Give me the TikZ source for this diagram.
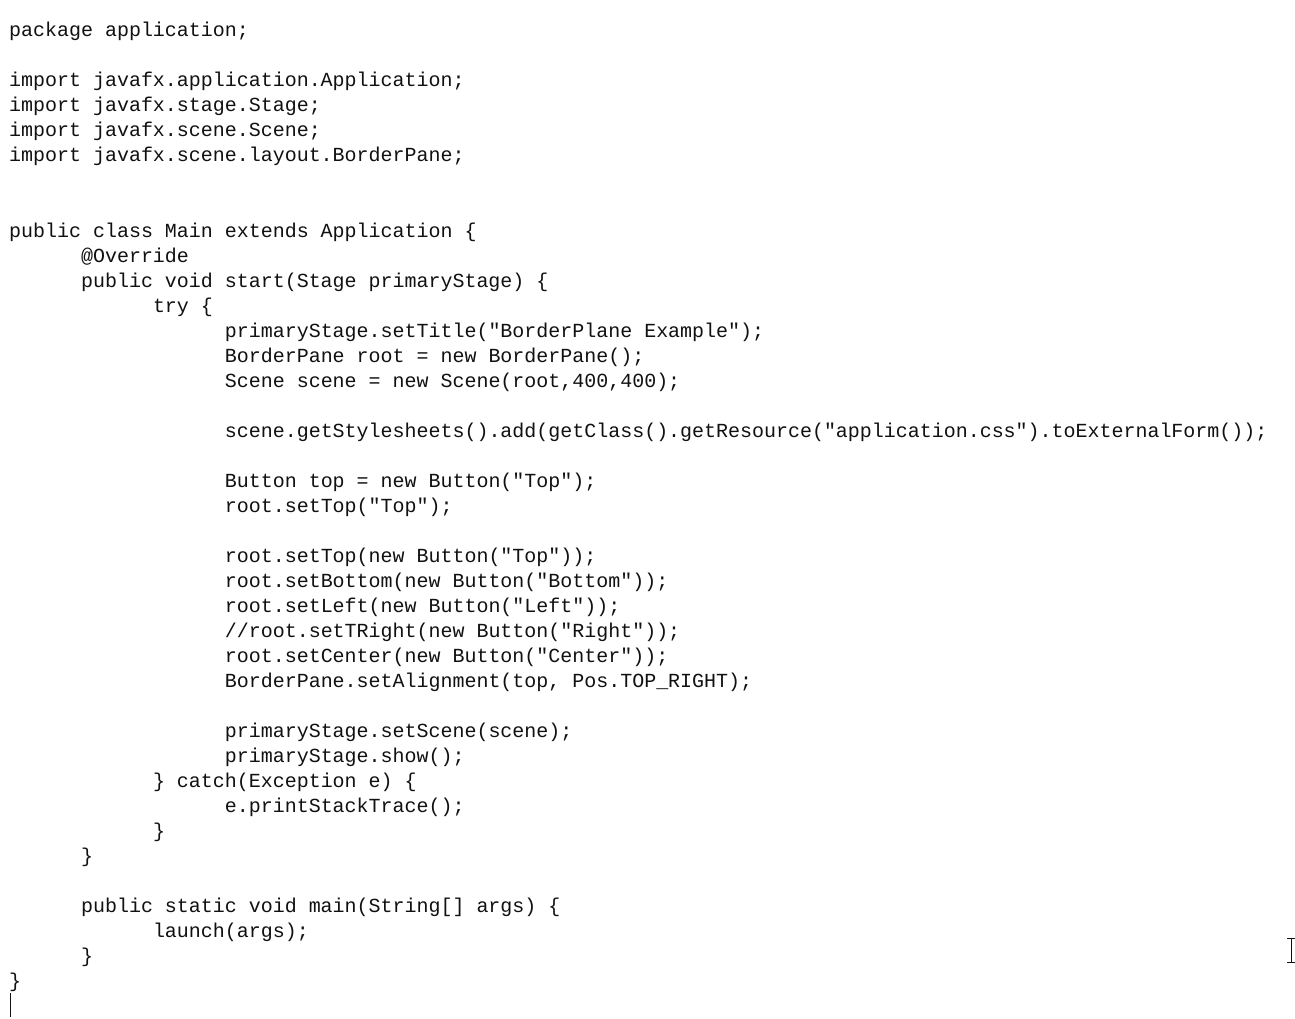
\documentclass[tikz,border=0pt]{standalone}
\usepackage{fontspec}
\newfontfamily\codefont{Liberation Mono}
\definecolor{codeink}{HTML}{111111}
\tikzset{codetext/.style={anchor=base west,inner sep=0pt,font=\codefont\fontsize{19.97pt}{25pt}\selectfont,text=codeink}}
\newcommand\codeline[3]{\node[codetext] (l#1) at ({9pt+#2*71.9pt},{-31pt-25pt*#1-6pt}) {#3};}
\begin{document}
\begin{tikzpicture}[x=1pt,y=1pt]
\fill[white] (0,0) rectangle (1295,-1019);
\useasboundingbox (0,0) rectangle (1295,-1019);
\codeline{0}{0}{package application;}
\codeline{2}{0}{import javafx.application.Application;}
\codeline{3}{0}{import javafx.stage.Stage;}
\codeline{4}{0}{import javafx.scene.Scene;}
\codeline{5}{0}{import javafx.scene.layout.BorderPane;}
\codeline{8}{0}{public class Main extends Application \{}
\codeline{9}{1}{@Override}
\codeline{10}{1}{public void start(Stage primaryStage) \{}
\codeline{11}{2}{try \{}
\codeline{12}{3}{primaryStage.setTitle("BorderPlane Example");}
\codeline{13}{3}{BorderPane root = new BorderPane();}
\codeline{14}{3}{Scene scene = new Scene(root,400,400);}
\codeline{16}{3}{scene.getStylesheets().add(getClass().getResource("application.css").toExternalForm());}
\codeline{18}{3}{Button top = new Button("Top");}
\codeline{19}{3}{root.setTop("Top");}
\codeline{21}{3}{root.setTop(new Button("Top"));}
\codeline{22}{3}{root.setBottom(new Button("Bottom"));}
\codeline{23}{3}{root.setLeft(new Button("Left"));}
\codeline{24}{3}{//root.setTRight(new Button("Right"));}
\codeline{25}{3}{root.setCenter(new Button("Center"));}
\codeline{26}{3}{BorderPane.setAlignment(top, Pos.TOP\_RIGHT);}
\codeline{28}{3}{primaryStage.setScene(scene);}
\codeline{29}{3}{primaryStage.show();}
\codeline{30}{2}{\} catch(Exception e) \{}
\codeline{31}{3}{e.printStackTrace();}
\codeline{32}{2}{\}}
\codeline{33}{1}{\}}
\codeline{35}{1}{public static void main(String[] args) \{}
\codeline{36}{2}{launch(args);}
\codeline{37}{1}{\}}
\codeline{38}{0}{\}}
% text caret
\draw[codeink,line width=1pt] (10,-993) -- (10,-1017);
% I-beam cursor
\draw[codeink,line width=1pt] (1291,-938) -- (1291,-962) (1287,-938) -- (1295,-938) (1287,-962) -- (1295,-962);
\end{tikzpicture}
\end{document}
